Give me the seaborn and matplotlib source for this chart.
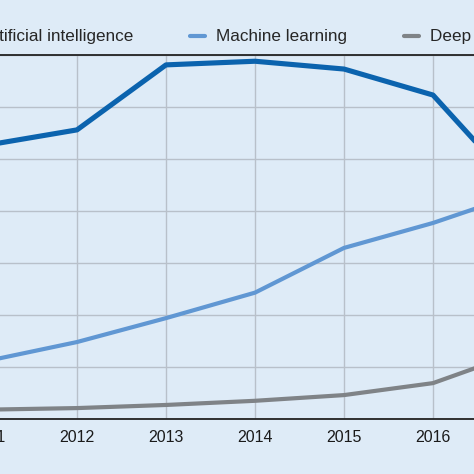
import numpy as np
import pandas as pd
import seaborn as sns
import matplotlib.pyplot as plt

years = [2011, 2012, 2013, 2014, 2015, 2016, 2017]
ai_values = [52.7, 55.6, 68.1, 68.8, 67.3, 62.3, 43.5]
ml_values = [11.2, 14.8, 19.4, 24.3, 32.9, 37.7, 43.5]
dl_values = [1.8, 2.1, 2.7, 3.5, 4.6, 6.9, 13.0]
series_names = ['Artificial intelligence', 'Machine learning', 'Deep learning']
tick_years = [2011, 2012, 2013, 2014, 2015, 2016]

df = pd.DataFrame({
    'year': years * 3,
    'value': ai_values + ml_values + dl_values,
    'series': [series_names[0]] * 7 + [series_names[1]] * 7 + [series_names[2]] * 7,
})

sns.set_theme(style='white')
plt.rcParams['font.family'] = ['Liberation Sans', 'DejaVu Sans']

bg = '#deebf7'
colors = {'Artificial intelligence': '#0b63ae',
          'Machine learning': '#6097d3',
          'Deep learning': '#7f8387'}

# the picture is a crop: the axes run on past the left edge
pad_left = 30
fig = plt.figure(figsize=(4.74, 4.74), dpi=100, facecolor=bg)
ax = fig.add_axes([-pad_left / 474, 1 - 419 / 474, (474 + pad_left) / 474, 364 / 474])
ax.set_facecolor(bg)

sns.lineplot(data=df, x='year', y='value', hue='series', hue_order=series_names,
             palette=colors, ax=ax, legend=True)
for line, lw in zip(ax.lines, [3.7, 3.0, 3.0]):
    line.set_linewidth(lw)

ax.set_xticks(tick_years)
ax.set_yticks(np.arange(0, 71, 10))
ax.set_yticklabels([])
# 2012 sits at x=77px, one year = 89px
ax.set_xlim(2012 - (77 + pad_left) / 89, 2012 + (474 - 77) / 89)
ax.set_ylim(0, 70)
ax.tick_params(axis='x', labelsize=11.5, colors='#1a1a1a', length=0, pad=8)
ax.tick_params(axis='y', length=0)
ax.set_xlabel('')
ax.set_ylabel('')
ax.grid(True, color='#b8c0ca', linewidth=1.0)
ax.set_axisbelow(True)

for side in ['left', 'right']:
    ax.spines[side].set_visible(False)
for side in ['top', 'bottom']:
    ax.spines[side].set_color('#222222')
    ax.spines[side].set_linewidth(1.3)

handles, labels = ax.get_legend_handles_labels()
ax.get_legend().remove()
leg = fig.legend(handles, labels, loc='center', ncol=3, frameon=False,
                 bbox_to_anchor=(246.5 / 474, 1 - 37 / 474),
                 fontsize=12.3, handlelength=0.9, handletextpad=0.66,
                 columnspacing=3.3)
for h in leg.legend_handles:
    h.set_linewidth(3.0)

fig.savefig('out.png', dpi=100, facecolor=bg)
